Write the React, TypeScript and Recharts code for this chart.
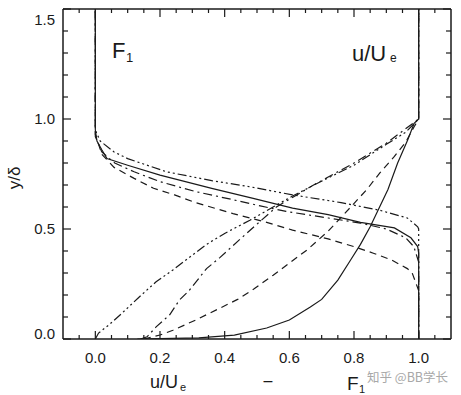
import React from 'react';
import { LineChart, Line, XAxis, YAxis, ReferenceLine } from 'recharts';

// velocity profiles u/Ue  (x = u/Ue, y = y/delta)
const uSolid = [
  [0.13, 0], [0.2, 0.002], [0.32, 0.005], [0.43, 0.018], [0.53, 0.05], [0.6, 0.086],
  [0.665, 0.145], [0.7, 0.18], [0.75, 0.268], [0.79, 0.36], [0.82, 0.43], [0.85, 0.51],
  [0.905, 0.68], [0.935, 0.8], [0.966, 0.905], [0.986, 0.98], [1.0, 1.0], [1.0, 1.5],
];
const uDashed = [
  [0.15, 0], [0.2, 0.018], [0.24, 0.04], [0.31, 0.086], [0.385, 0.14], [0.44, 0.18],
  [0.49, 0.227], [0.55, 0.29], [0.6, 0.345], [0.655, 0.405], [0.72, 0.49], [0.79, 0.6],
  [0.84, 0.68], [0.88, 0.755], [0.925, 0.83], [0.96, 0.895], [0.986, 0.965], [1.0, 1.0], [1.0, 1.5],
];
const uDashDot = [
  [0.14, 0], [0.16, 0.01], [0.188, 0.055], [0.23, 0.11], [0.26, 0.177], [0.29, 0.22],
  [0.344, 0.32], [0.385, 0.37], [0.46, 0.47], [0.56, 0.6], [0.675, 0.7], [0.8, 0.8],
  [0.9, 0.89], [1.0, 1.0], [1.0, 1.5],
];
const uDashDot3 = [
  [0.0, 0], [0.01, 0.027], [0.042, 0.064], [0.083, 0.118], [0.135, 0.19], [0.188, 0.26],
  [0.24, 0.314], [0.29, 0.37], [0.344, 0.43], [0.4, 0.48], [0.478, 0.54], [0.55, 0.6],
  [0.61, 0.65], [0.69, 0.71], [0.8, 0.79], [0.9, 0.885], [0.96, 0.94], [1.0, 1.0], [1.0, 1.5],
];

// blending function F1  (x = F1, y = y/delta)
const f1Solid = [
  [1.0, 0], [1.0, 0.39], [0.997, 0.42], [0.976, 0.46], [0.925, 0.505], [0.82, 0.53],
  [0.72, 0.565], [0.61, 0.595], [0.485, 0.64], [0.36, 0.685], [0.2, 0.745], [0.1, 0.79],
  [0.036, 0.82], [0.02, 0.86], [0.005, 0.9], [0, 0.95], [0, 1.5],
];
const f1Dashed = [
  [1.0, 0], [1.0, 0.22], [0.98, 0.3], [0.965, 0.32], [0.915, 0.36], [0.86, 0.39],
  [0.8, 0.42], [0.72, 0.455], [0.61, 0.495], [0.53, 0.53], [0.426, 0.57], [0.31, 0.62],
  [0.245, 0.655], [0.18, 0.685], [0.12, 0.73], [0.058, 0.78], [0.02, 0.84], [0, 0.93], [0, 1.5],
];
const f1DashDot = [
  [1.0, 0], [1.0, 0.35], [0.985, 0.42], [0.96, 0.46], [0.9, 0.5], [0.82, 0.527],
  [0.72, 0.55], [0.59, 0.58], [0.51, 0.605], [0.42, 0.635], [0.31, 0.67], [0.2, 0.715],
  [0.12, 0.76], [0.06, 0.8], [0.02, 0.85], [0, 0.92], [0, 1.5],
];
const f1DashDot3 = [
  [1.0, 0], [1.0, 0.5], [0.997, 0.51], [0.965, 0.55], [0.88, 0.585], [0.76, 0.62],
  [0.61, 0.655], [0.485, 0.69], [0.36, 0.72], [0.22, 0.76], [0.1, 0.82], [0.058, 0.85],
  [0.015, 0.9], [0, 0.95], [0, 1.5],
];

const xTicks = [
  -0.05, 0, 0.05, 0.1, 0.15, 0.2, 0.25, 0.3, 0.35, 0.4, 0.45, 0.5, 0.55,
  0.6, 0.65, 0.7, 0.75, 0.8, 0.85, 0.9, 0.95, 1.0, 1.05,
];
const yTicks = [0, 0.1, 0.2, 0.3, 0.4, 0.5, 0.6, 0.7, 0.8, 0.9, 1.0, 1.1, 1.2, 1.3, 1.4, 1.5];

const toPts = (arr: number[][]) => arr.map(([x, y]) => ({ x, y }));

const series = [
  { name: 'u-solid', data: uSolid, dash: undefined },
  { name: 'u-dashed', data: uDashed, dash: '7 5' },
  { name: 'u-dashdot', data: uDashDot, dash: '9 4 2 4' },
  { name: 'u-dashdot3', data: uDashDot3, dash: '9 3 2 3 2 3 2 3' },
  { name: 'f1-solid', data: f1Solid, dash: undefined },
  { name: 'f1-dashed', data: f1Dashed, dash: '7 5' },
  { name: 'f1-dashdot', data: f1DashDot, dash: '9 4 2 4' },
  { name: 'f1-dashdot3', data: f1DashDot3, dash: '9 3 2 3 2 3 2 3' },
];

const W = 461;
const H = 395;
const PLOT = { left: 63, top: 9, right: 451, bottom: 339 };
const X_AXIS_H = 30;
const Y_AXIS_W = 40;
const INK = '#1a1a1a';
const FONT = '"Liberation Sans", Arial, sans-serif';

const BottomTick = (props: any) => {
  const { x, y, payload } = props;
  const v = payload.value;
  const major = Math.abs(v * 5 - Math.round(v * 5)) < 1e-6;
  const len = major ? 8 : 4;
  return (
    <g>
      <line x1={x} y1={y} x2={x} y2={y - len} stroke={INK} strokeWidth={1.2} />
      <line x1={x} y1={PLOT.top} x2={x} y2={PLOT.top + len} stroke={INK} strokeWidth={1.2} />
      {major && (
        <text x={x} y={y + 24} textAnchor="middle" fontSize={15} fontFamily={FONT} fill={INK}>
          {v.toFixed(1)}
        </text>
      )}
    </g>
  );
};

const LeftTick = (props: any) => {
  const { x, y, payload } = props;
  const v = payload.value;
  const major = Math.abs(v * 2 - Math.round(v * 2)) < 1e-6;
  const len = major ? 8 : 5;
  let dy = 5;
  if (v >= 1.5) dy = 16;
  if (v <= 0) dy = 0;
  return (
    <g>
      <line x1={x} y1={y} x2={x + len} y2={y} stroke={INK} strokeWidth={1.2} />
      <line x1={PLOT.right} y1={y} x2={PLOT.right - len} y2={y} stroke={INK} strokeWidth={1.2} />
      {major && (
        <text x={x - 8} y={y + dy} textAnchor="end" fontSize={15} fontFamily={FONT} fill={INK}>
          {v.toFixed(1)}
        </text>
      )}
    </g>
  );
};

export default function App() {
  return (
    <div style={{ position: 'absolute', left: 0, top: 0, width: W, height: H, background: '#fff' }}>
      <LineChart
        width={W}
        height={H}
        margin={{
          top: PLOT.top,
          left: PLOT.left - Y_AXIS_W,
          right: W - PLOT.right,
          bottom: H - PLOT.bottom - X_AXIS_H,
        }}
      >
        <XAxis
          dataKey="x"
          type="number"
          domain={[-0.1, 1.1]}
          ticks={xTicks}
          interval={0}
          height={X_AXIS_H}
          tickSize={0}
          tickMargin={0}
          tickLine={false}
          tick={<BottomTick />}
          axisLine={{ stroke: INK, strokeWidth: 1.5 }}
          allowDataOverflow
        />
        <YAxis
          dataKey="y"
          type="number"
          domain={[0, 1.5]}
          ticks={yTicks}
          interval={0}
          width={Y_AXIS_W}
          tickSize={0}
          tickMargin={0}
          tickLine={false}
          tick={<LeftTick />}
          axisLine={{ stroke: INK, strokeWidth: 1.5 }}
          allowDataOverflow
        />
        <ReferenceLine y={1.5} stroke={INK} strokeWidth={1.5} />
        <ReferenceLine x={1.1} stroke={INK} strokeWidth={1.5} />
        {series.map((s) => (
          <Line
            key={s.name}
            data={toPts(s.data)}
            dataKey="y"
            type="linear"
            stroke={INK}
            strokeWidth={1.2}
            strokeDasharray={s.dash}
            dot={false}
            activeDot={false}
            isAnimationActive={false}
          />
        ))}
      </LineChart>
      <svg
        width={W}
        height={H}
        style={{ position: 'absolute', left: 0, top: 0, pointerEvents: 'none' }}
        fontFamily={FONT}
        fill={INK}
      >
        <text x={112} y={58} fontSize={22}>F</text>
        <text x={126} y={62} fontSize={13}>1</text>
        <text x={352} y={61} fontSize={22}>u/U</text>
        <text x={390} y={62} fontSize={12}>e</text>
        <text x={150} y={388} fontSize={18}>u/U</text>
        <text x={180} y={391} fontSize={11}>e</text>
        <text x={268} y={386} fontSize={16} textAnchor="middle">–</text>
        <text x={347} y={390} fontSize={19}>F</text>
        <text x={359} y={393} fontSize={11}>1</text>
        <text
          x={20}
          y={178}
          fontSize={17}
          textAnchor="middle"
          transform="rotate(-90 20 178)"
        >
          y/δ
        </text>
        <text x={367} y={382} fontSize={12.5} fill="#a8a8a8" fontFamily='"Noto Sans CJK SC", sans-serif'>
          知乎 @BB学长
        </text>
      </svg>
    </div>
  );
}
